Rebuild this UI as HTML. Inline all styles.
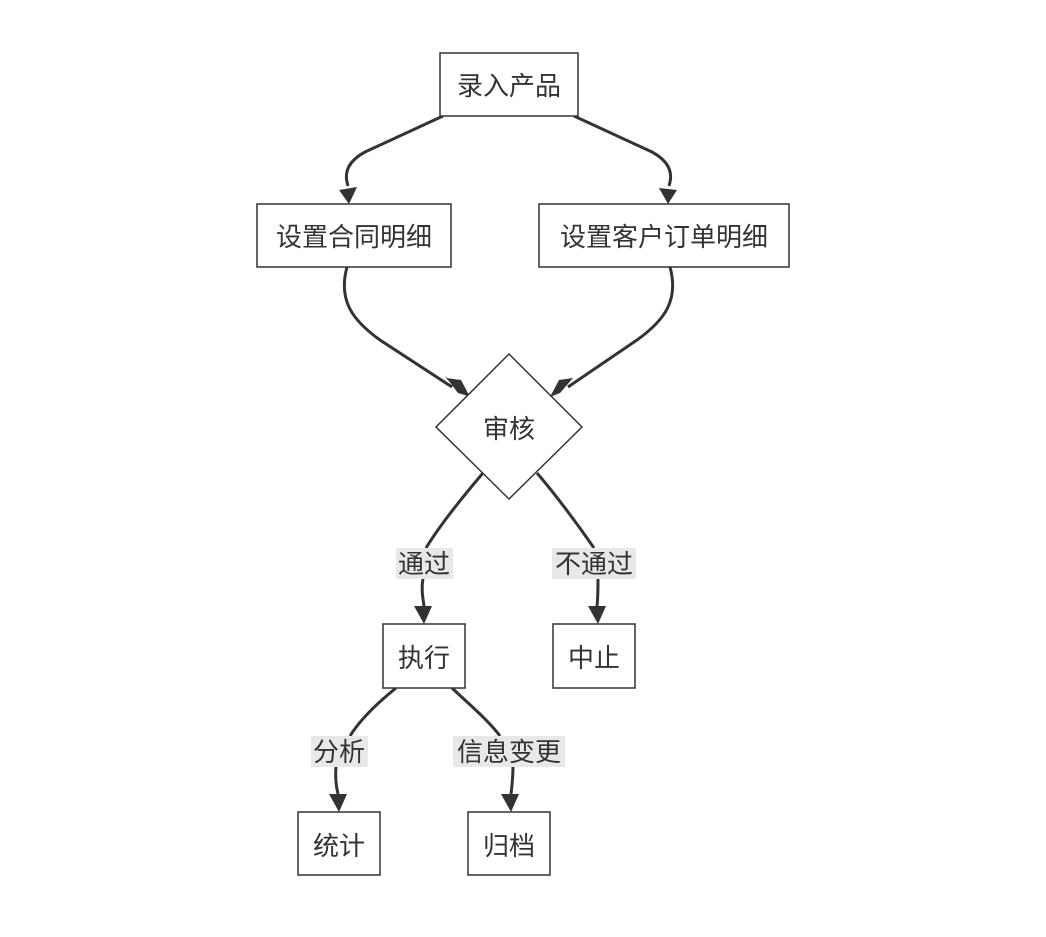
<!DOCTYPE html>
<html><head><meta charset="utf-8"><style>
html,body{margin:0;padding:0;background:#fff;}
svg text{font-family:"Liberation Sans","Noto Sans CJK SC",sans-serif;font-size:26px;fill:#333;}
</style></head><body>
<svg width="1046" height="932" viewBox="0 0 1046 932" xmlns="http://www.w3.org/2000/svg">
<defs>
<marker id="a" viewBox="0 0 10 10" refX="9" refY="5" markerWidth="7" markerHeight="7" markerUnits="userSpaceOnUse" orient="auto" style="overflow:visible">
<path d="M0,0 L10,5 L0,10 z" fill="#333" transform="scale(2.2) translate(-5.5,-2.7)"/>
</marker>
</defs>
<g fill="none" stroke="#333" stroke-width="3">
<path d="M443,116 L365,152 Q343,164 347,182 L348,186"/>
<path d="M574,116 L652,152 Q674,164 670,182 L669,186"/>
<path d="M347,267 C338,300 352,320 380,340 L452,387"/>
<path d="M670,267 C679,300 665,320 637,340 L568,387"/>
<path d="M483,473 C460,500 440,525 426,548"/>
<path d="M423,578 C421,590 423,598 424,606"/>
<path d="M537,473 C560,500 578,525 594,548"/>
<path d="M598,578 C598,590 598,598 597,606"/>
<path d="M396,688 C375,705 360,720 350,736"/>
<path d="M336,766 C335,778 336,786 338,794"/>
<path d="M452,688 C470,705 490,722 500,736"/>
<path d="M513,766 C513,778 512,786 511,794"/>
</g>
<g fill="#333">
<polygon points="339,190 357,187 349,204"/>
<polygon points="659,188 677,190 668,204"/>
<polygon points="445,376 458,393 468,396 "/>
<polygon points="446,378 460,393 470,397 461,380"/>
<polygon points="573,378 560,393 550,397 559,380"/>
<polygon points="414,606 432,606 424,624"/>
<polygon points="588,606 606,606 598,624"/>
<polygon points="329,794 347,794 339,812"/>
<polygon points="501,794 519,794 511,812"/>
</g>
<g fill="#e8e8e8">
<rect x="396" y="548" width="57" height="31"/>
<rect x="552" y="548" width="84" height="31"/>
<rect x="311" y="736" width="57" height="31"/>
<rect x="453" y="736" width="112" height="31"/>
</g>
<g fill="#fff" stroke="#333" stroke-width="1.5">
<rect x="440" y="53" width="138" height="63"/>
<rect x="257" y="204" width="194" height="63"/>
<rect x="539" y="204" width="250" height="63"/>
<polygon points="509,354 582,427 509,499 436,427"/>
<rect x="383" y="624" width="82" height="64"/>
<rect x="553" y="624" width="82" height="64"/>
<rect x="298" y="812" width="82" height="63"/>
<rect x="468" y="812" width="82" height="63"/>
</g>
<g text-anchor="middle">
<text x="509" y="95">录入产品</text>
<text x="354" y="246">设置合同明细</text>
<text x="664" y="246">设置客户订单明细</text>
<text x="509" y="438">审核</text>
<text x="424" y="573">通过</text>
<text x="594" y="573">不通过</text>
<text x="424" y="667">执行</text>
<text x="594" y="667">中止</text>
<text x="339" y="761">分析</text>
<text x="509" y="761">信息变更</text>
<text x="339" y="855">统计</text>
<text x="509" y="855">归档</text>
</g>
</svg>
</body></html>
